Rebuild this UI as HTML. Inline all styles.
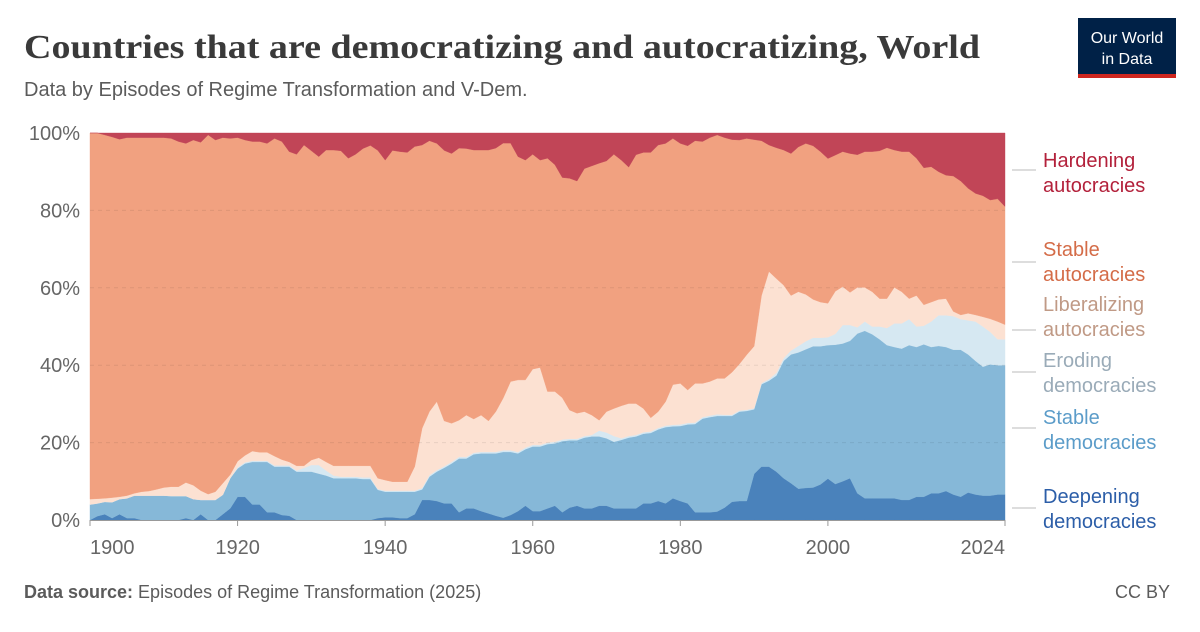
<!DOCTYPE html>
<html><head><meta charset="utf-8">
<style>
body{margin:0;width:1200px;height:627px;background:#fff;overflow:hidden;font-family:"Liberation Sans",sans-serif;}
svg text{font-family:"Liberation Sans",sans-serif;}
</style></head>
<body>
<svg id="chart" width="1200" height="627" viewBox="0 0 1200 627">
<text x="24" y="58" font-size="34" font-weight="bold" fill="#3a3a3a" textLength="956" lengthAdjust="spacingAndGlyphs" style="font-family:'Liberation Serif',serif">Countries that are democratizing and autocratizing, World</text>
<text x="24" y="96" font-size="20" fill="#5b5b5b">Data by Episodes of Regime Transformation and V-Dem.</text>
<g>
<rect x="1078" y="18" width="98" height="60" fill="#002147"/>
<rect x="1078" y="74" width="98" height="4" fill="#ce261e"/>
<text x="1127" y="43" font-size="16" fill="#fff" text-anchor="middle">Our World</text>
<text x="1127" y="64" font-size="16" fill="#fff" text-anchor="middle">in Data</text>
</g>
<g id="plot"></g>
<g id="axes"></g>
<g id="legend"></g>
<text x="24" y="598" font-size="18" fill="#5b5b5b"><tspan font-weight="bold">Data source:</tspan> Episodes of Regime Transformation (2025)</text>
<text x="1170" y="598" font-size="18" fill="#5b5b5b" text-anchor="end">CC BY</text>
</svg>
<script>
// Cumulative stack boundaries (% of countries), yearly 1900–2024
const startYear = 1900;
const deepeningTop = [0,1,1.5,0.5,1.5,0.5,0.5,0,0,0,0,0,0,0.5,0,1.5,0,0,1.5,3,
 6,6,4,4,2,2,1.3,1.1,0,0,0,0,0,0,0,0,0,0,0,0.5,0.7,0.7,
 0.5,0.5,1.5,5.2,5.2,4.9,4.3,4.3,2,3,3,2.3,1.7,1.1,0.6,1.3,2.3,3.7,2.3,2.3,3,3.7,2,3.2,3.7,3,3,3.7,3.7,3,3,3,3,4.3,4.3,4.9,4.3,5.6,4.9,4.3,2,2,2,2.2,
 3.2,4.7,4.9,4.9,11.9,13.8,13.8,12.5,10.8,9.5,8.1,8.3,8.4,9.2,10.7,9.3,10,10.8,6.9,5.6,5.6,5.6,5.6,5.6,5.2,5.2,6,6,6.9,6.9,7.5,6.6,6,7.1,6.6,6.3,6.3,6.6,6.6];
const stableDemocraciesTop = [4,4.3,4.7,4.6,5.4,5.6,6.3,6.3,6.3,6.3,6.3,6.2,6.2,6.2,5.4,5.2,5.2,5.2,6.5,10.8,
 13.3,14.6,15,15,15,13.8,13.8,13.8,12.5,12.5,12.5,12,11.5,10.8,10.8,10.8,10.8,10.6,10.6,7.8,7.3,7.3,
 7.3,7.3,7.3,7.9,11.2,12.5,13.5,14.6,15.9,15.9,17,17.2,17.2,17.2,17.6,17.6,17.2,18.3,19,19,19.6,19.8,20.4,20.6,20.6,21.3,21.6,21.6,21.1,20.2,20.7,21.3,21.6,22.3,22.5,23.4,24,24.2,24.3,24.7,24.8,26.2,26.6,26.9,
 26.9,26.9,28,28.2,28.6,35.1,36,37.3,41.1,42.8,43.3,44.1,44.9,44.9,45.2,45.3,45.6,46.3,48.2,48.9,48,46.7,45.2,44.7,44.3,45.2,44.7,45.4,44.7,45,44.7,44,44,42.8,41.1,39.6,40.2,40,40];
const erodingTop = [4,4.3,4.7,4.6,5.4,5.6,6.3,6.3,6.3,6.3,6.3,6.2,6.2,6.2,5.4,5.2,5.2,5.2,6.5,10.8,
 13.6,14.9,15.3,15.3,15.3,14.1,14.1,14.1,12.8,13.5,14.2,14.2,12.8,11.5,11.2,11.2,11.2,11,11,8,7.6,7.6,
 7.6,7.6,7.6,8.3,11.6,12.9,13.9,15,16.3,16.3,17.4,17.6,17.6,17.6,18,18,17.6,18.7,19.4,19.4,20,20.2,20.8,21,21,21.7,22,23.1,22.6,21.7,21.1,21.7,22,22.7,22.9,23.8,24.4,24.6,24.7,25.1,25.2,26.6,27,27.3,
 27.2,27.2,28.3,28.5,28.9,35.4,36.4,38,41.8,43.8,45,46.2,47.1,47.1,47.2,48.1,50.4,50.4,49.8,51.3,50,50,49.6,50.8,50.8,51.9,50,50.2,51.3,52.9,52.9,52.7,51.9,51.6,51.3,50,48.6,46.7,46.7];
const liberalizingTop = [5.4,5.5,5.6,5.8,6,6.3,6.9,7.3,7.5,7.9,8.4,8.6,8.6,9.7,9,7.6,6.7,7.3,9.5,11.7,
 15.2,16.7,17.8,17.5,17.5,16.5,15.6,15,14,14,15.5,16.1,15,14,14,14,14,14,14,10.8,10.3,9.9,
 9.9,9.9,13.8,23.7,28,30.6,25.6,25,25.8,27.1,26.1,27.1,25.6,28,31.5,35.8,36.2,36.2,39,39.4,33.2,33.2,31.6,28.4,27.6,28,27.1,25.8,28,28.8,29.5,30.1,30.1,28.8,26.4,28,30.6,35,35.3,33.6,35.3,35.3,35.8,36.6,
 36.6,38.2,40.3,42.7,44.9,58,64.2,62.4,60.7,58,59,58.3,57,56.3,56,59.1,60.3,58.8,60.1,60.1,59,57.2,57.2,60.1,59,57.2,58,55.6,56.3,57,57.2,53.9,53,53.4,53,52.5,52,51.3,50.5];
const stableAutocraciesTop = [100,100,99.5,99,98.4,98.8,98.8,98.8,98.8,98.8,98.8,98.6,97.8,97.3,98.2,97.6,99.5,98.2,98.8,98.6,
 98.8,98.2,97.8,97.8,97.3,98.6,97.8,95.2,94.5,96.9,95.4,93.9,95.6,95.6,95.4,93.5,94.5,96,96.8,95.5,93,95.5,
 95.2,95,96.5,96.9,98,97.3,95.5,94.7,96.1,96,95.6,95.6,95.6,96.1,97.4,97.4,93.9,93,94.5,93,93.5,91.8,88.5,88.3,87.6,90.8,91.5,92.2,92.8,94.5,93,91.2,94.4,95,95,96.9,97.3,98.6,97.3,96.7,98,97.8,98.8,99.5,
 98.8,98.3,98.2,98.6,98.3,98,96.9,96.2,95.6,94.7,96.4,97.3,96.7,95.2,93.4,94.3,95.2,94.7,94.4,95.2,95.2,95.4,96.2,95.6,95.2,95.2,93.5,91,91.3,90,89.1,88.9,87.6,85.7,84.4,83.8,82.7,83,81];
const hardeningTop = stableAutocraciesTop.map(()=>100);
const yTicks = [0,20,40,60,80,100];
const xTicks = [1900,1920,1940,1960,1980,2000,2024];
const seriesNames = ["Deepening democracies","Stable democracies","Eroding democracies","Liberalizing autocracies","Stable autocracies","Hardening autocracies"];

const NS="http://www.w3.org/2000/svg";
const X0=90,X1=1005,Y0=520,Y1=133, endYear=2024;
const xs=y=>X0+(y-startYear)*(X1-X0)/(endYear-startYear);
const ys=v=>Y0-v*(Y0-Y1)/100;
const plot=document.getElementById('plot'), axes=document.getElementById('axes'), legend=document.getElementById('legend');
function mk(tag,attrs,parent){const e=document.createElementNS(NS,tag);for(const k in attrs)e.setAttribute(k,attrs[k]);parent.appendChild(e);return e;}
const zero=deepeningTop.map(()=>0);
const bounds=[zero,deepeningTop,stableDemocraciesTop,erodingTop,liberalizingTop,stableAutocraciesTop,hardeningTop];
const fills=["#4a82bb","#86b8d8","#d6e8f2","#fce1d2","#f1a180","#c14557"];
const keys=["deepening","stable-democracies","eroding","liberalizing","stable-autocracies","hardening"];
for(let s=0;s<6;s++){
  const lo=bounds[s],hi=bounds[s+1];let pts=[];
  for(let i=0;i<hi.length;i++)pts.push(xs(startYear+i).toFixed(1)+","+ys(hi[i]).toFixed(1));
  for(let i=lo.length-1;i>=0;i--)pts.push(xs(startYear+i).toFixed(1)+","+ys(lo[i]).toFixed(1));
  const p=mk('polygon',{points:pts.join(' '),fill:fills[s],stroke:fills[s],'stroke-width':0.4},plot);
  
  
}
yTicks.forEach(v=>{
  if(v>0&&v<100){const g=mk('line',{x1:X0,x2:X1,y1:ys(v),y2:ys(v),stroke:"#000","stroke-opacity":0.08,"stroke-dasharray":"4,4"},axes);
  
  }
  const t=mk('text',{x:80,y:ys(v)+7,'font-size':20,fill:'#666','text-anchor':'end'},axes);t.textContent=v+'%';
  
  
});
const ax=mk('line',{x1:X0,x2:X1,y1:Y0+0.5,y2:Y0+0.5,stroke:'#999'},axes);


xTicks.forEach((yr,i)=>{
  const tk=mk('line',{x1:xs(yr),x2:xs(yr),y1:Y0,y2:Y0+6,stroke:'#999'},axes);
  
  
  const anchor=i==0?'start':(i==xTicks.length-1?'end':'middle');
  const t=mk('text',{x:xs(yr),y:Y0+34,'font-size':20,fill:'#666','text-anchor':anchor},axes);t.textContent=yr;
  
  
});
const labs=[["Hardening","autocracies",160,"#b3213b",170],["Stable","autocracies",249,"#d46c48",262],["Liberalizing","autocracies",304,"#c09a86",330],["Eroding","democracies",360,"#9aabb8",372],["Stable","democracies",417,"#5b9cc9",428],["Deepening","democracies",496,"#2c5ea8",508]];
labs.forEach(l=>{
  const g=mk('g',{},legend);
  
  
  mk('path',{d:`M1012 ${l[4]} H1025 L1030 ${l[4]} H1036`,stroke:'#bbb',fill:'none'},g);
  const t1=mk('text',{x:1043,y:l[2]+7,'font-size':20,fill:l[3]},g);t1.textContent=l[0];
  const t2=mk('text',{x:1043,y:l[2]+32,'font-size':20,fill:l[3]},g);t2.textContent=l[1];
});
</script>
</body></html>
